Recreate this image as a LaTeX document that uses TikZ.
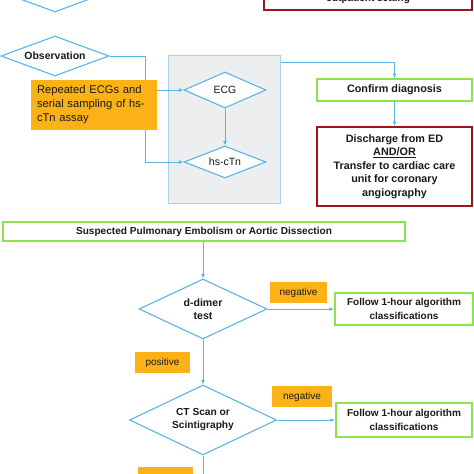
\documentclass[tikz,border=0pt]{standalone}
\usepackage{fontspec}
\setmainfont{Liberation Sans}
\usetikzlibrary{shapes.geometric,arrows.meta}
\definecolor{flowBlue}{HTML}{5AB4E5}
\definecolor{frameBlue}{HTML}{A9D3EA}
\definecolor{panelGray}{HTML}{ECEEF0}
\definecolor{tagOrange}{HTML}{FBB216}
\definecolor{okGreen}{HTML}{8DE34E}
\definecolor{stopRed}{HTML}{A1121A}
\definecolor{inkDark}{HTML}{1A1A1A}

\begin{document}
\begin{tikzpicture}[x=1pt,y=-1pt,font=\fontsize{10}{13}\selectfont,text=inkDark,
  flow/.style={draw=flowBlue,line width=0.9pt,-{Latex[length=4.5pt,width=4pt]}},
  decision/.style={diamond,draw=flowBlue,fill=white,line width=1.1pt,inner sep=0pt,aspect=2.7,align=center},
  greenbox/.style={rectangle,draw=okGreen,fill=white,line width=2pt,align=center,font=\fontsize{10}{14}\selectfont\bfseries},
  redbox/.style={rectangle,draw=stopRed,fill=white,line width=2pt,align=center},
  tag/.style={rectangle,fill=tagOrange,minimum height=21pt,inner sep=0pt}]
  \useasboundingbox (0,0) rectangle (474,474);
  \clip (0,0) rectangle (474,474);

  % Cut-off pieces at the top
  \node[decision,minimum width=108pt,minimum height=40pt] (prevdec) at (55,-8) {};
  \node[redbox,minimum width=208pt,minimum height=60pt] (outpatient) at (368,-20) {};
  \node[anchor=base,font=\bfseries] (outpatienttext) at (368,1) {outpatient setting};

  % Observation branch
  \node[draw=frameBlue,fill=panelGray,line width=1pt,minimum width=112pt,minimum height=148pt] (ecgpanel) at (224,129) {};
  \node[decision,minimum width=108pt,minimum height=40pt,font=\fontsize{10.5}{12}\selectfont\bfseries] (obs) at (55,56) {Observation};
  \node[decision,minimum width=82pt,minimum height=36pt,font=\fontsize{10.5}{12}\selectfont] (ecg) at (225,90) {ECG};
  \node[decision,minimum width=82pt,minimum height=32pt,font=\fontsize{10.5}{12}\selectfont] (hs) at (225,162) {hs-cTn};
  \coordinate (obsbend) at (145,56);
  \draw[flow,-] (obs.east) -- (obsbend);
  \draw[flow] (obsbend) |- (hs.west);
  \draw[flow] (obsbend |- ecg.west) -- (ecg.west);
  \draw[flow] (ecg.south) -- (hs.north);
  \node[fill=tagOrange,minimum width=126pt,minimum height=50pt,text width=114pt,inner xsep=6pt,align=left,font=\fontsize{11.2}{14}\selectfont] (serial) at (94,105) {Repeated ECGs and\\serial sampling of hs-\\cTn assay};

  % Right column
  \node[greenbox,minimum width=155pt,minimum height=22pt,font=\fontsize{10.8}{13}\selectfont\bfseries] (confirm) at (394.5,90) {Confirm diagnosis};
  \node[redbox,minimum width=155pt,minimum height=79pt,font=\fontsize{10.8}{13.5}\selectfont\bfseries] (discharge) at (394.5,166.5) {Discharge from ED\\\underline{AND/OR}\\Transfer to cardiac care\\unit for coronary\\angiography};
  \draw[flow] ([yshift=-8pt]ecgpanel.north east) -| (confirm.north);
  \draw[flow] (confirm.south) -- (discharge.north);

  % Pulmonary embolism / aortic dissection
  \node[greenbox,minimum width=402pt,minimum height=19pt,font=\fontsize{10.1}{12}\selectfont\bfseries] (suspected) at (204,231.5) {Suspected Pulmonary Embolism or Aortic Dissection};
  \node[decision,minimum width=128pt,minimum height=60pt,font=\fontsize{10.6}{13}\selectfont\bfseries] (ddimer) at (203,309) {d-dimer\\test};
  \node[greenbox,minimum width=138pt,minimum height=32pt] (follow1) at (404,309) {Follow 1-hour algorithm\\classifications};
  \node[tag,minimum width=57pt] (neg1) at (298.5,292.5) {negative};
  \node[tag,minimum width=55pt] (pos1) at (162.5,362.5) {positive};
  \node[decision,minimum width=147pt,minimum height=70pt,font=\fontsize{10.2}{13}\selectfont\bfseries] (ct) at (203,420) {CT Scan or\\Scintigraphy};
  \node[greenbox,minimum width=136pt,minimum height=34pt] (follow2) at (404,420) {Follow 1-hour algorithm\\classifications};
  \node[tag,minimum width=60pt] (neg2) at (302,396.5) {negative};
  \node[tag,minimum width=55pt] (pos2) at (165.5,477.5) {};
  \coordinate (ctout) at (203,480);
  \draw[flow] (ddimer.north |- suspected.south) -- (ddimer.north);
  \draw[flow] (ddimer.east) -- (follow1.west);
  \draw[flow] (ddimer.south) -- (ct.north);
  \draw[flow] (ct.east) -- (follow2.west);
  \draw[flow,-] (ct.south) -- (ctout);
\end{tikzpicture}
\end{document}
